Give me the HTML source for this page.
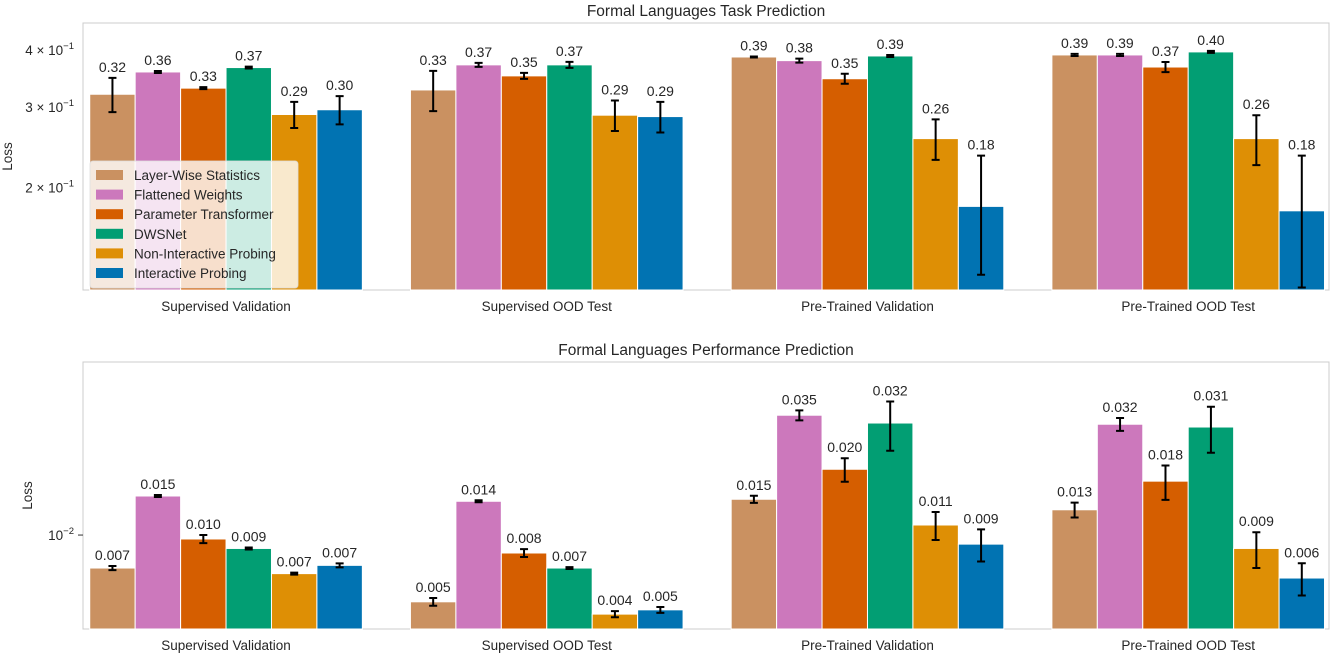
<!DOCTYPE html>
<html><head><meta charset="utf-8">
<style>
html,body{margin:0;padding:0;background:#fff;}
svg{display:block;font-family:"Liberation Sans","DejaVu Sans",sans-serif;}
</style></head>
<body>
<svg id="chart" width="1335" height="653" viewBox="0 0 1335 653" xmlns="http://www.w3.org/2000/svg"></svg>
<script>
const categories = ["Supervised Validation","Supervised OOD Test","Pre-Trained Validation","Pre-Trained OOD Test"];
const seriesNames = ["Layer-Wise Statistics","Flattened Weights","Parameter Transformer","DWSNet","Non-Interactive Probing","Interactive Probing"];
const colors = ["#ca9161","#cc78bc","#d55e00","#029e73","#de8f05","#0173b2"];
// Task prediction values [series][category]
const taskLW  = [0.320,0.327,0.386,0.390];
const taskFW  = [0.358,0.371,0.379,0.390];
const taskPT  = [0.330,0.351,0.346,0.367];
const taskDW  = [0.366,0.371,0.388,0.396];
const taskNIP = [0.289,0.288,0.256,0.256];
const taskIP  = [0.296,0.286,0.182,0.178];
const taskErrLW  = [0.0275,0.033,0.001,0.002];
const taskErrFW  = [0.0018,0.0037,0.0038,0.002];
const taskErrPT  = [0.0017,0.0053,0.0087,0.0093];
const taskErrDW  = [0.0018,0.0056,0.002,0.002];
const taskErrNIP = [0.019,0.022,0.026,0.032];
const taskErrIP  = [0.021,0.022,0.053,0.057];
// Performance prediction values
const perfLW  = [0.0071,0.0050,0.0145,0.0130];
const perfFW  = [0.0150,0.0142,0.0347,0.0316];
const perfPT  = [0.0096,0.0083,0.0198,0.0175];
const perfDW  = [0.0087,0.0071,0.0320,0.0307];
const perfNIP = [0.0067,0.0044,0.0111,0.0087];
const perfIP  = [0.0073,0.0046,0.0091,0.0064];
const perfErrLW  = [0.00015,0.0002,0.00053,0.001];
const perfErrFW  = [0.00016,0.00015,0.0018,0.0021];
const perfErrPT  = [0.0004,0.00034,0.0024,0.0031];
const perfErrDW  = [0.00009,0.00007,0.008,0.0072];
const perfErrNIP = [0.00007,0.00014,0.0016,0.0016];
const perfErrIP  = [0.00015,0.00014,0.0015,0.00106];
const taskTicks = [0.2,0.3,0.4];
const taskTickMant = ["2","3","4"];
const perfTicks = [0.01];

const NS="http://www.w3.org/2000/svg";
const svg=document.getElementById('chart');
function mk(tag,attrs,parent){const e=document.createElementNS(NS,tag);for(const k in attrs)e.setAttribute(k,attrs[k]);(parent||svg).appendChild(e);return e;}

function drawPanel(cfg){
  const {top,bottom,left,right,ymin,ymax,vals,errs,digits,title,prefix}=cfg;
  const g=mk('g',{});
  
  
  const L0=Math.log10(ymin),L1=Math.log10(ymax);
  const y=v=>bottom-(Math.log10(v)-L0)/(L1-L0)*(bottom-top);
  const xlo=-0.446, xhi=3.439;
  const xc=i=>left+(i-xlo)/(xhi-xlo)*(right-left);
  const groupW=(right-left)/(xhi-xlo);
  const barW=groupW*0.85/seriesNames.length;
  const fr=mk('rect',{x:left,y:top,width:right-left,height:bottom-top,fill:'none',stroke:'#cccccc','stroke-width':1},g);
  
  
  const t=mk('text',{x:(left+right)/2,y:top-7,'text-anchor':'middle','font-size':15.5,fill:'#262626'},g);
  t.textContent=title;
  
  
  const yl=mk('text',{x:cfg.ylabX,y:(top+bottom)/2,'text-anchor':'middle','font-size':13.5,fill:'#262626',transform:`rotate(-90 ${cfg.ylabX} ${(top+bottom)/2})`},g);
  yl.textContent='Loss';
  
  
  cfg.ticks(g,y);
  categories.forEach((c,i)=>{
    const ct=mk('text',{x:xc(i),y:bottom+21,'text-anchor':'middle','font-size':13.5,fill:'#262626'},g);
    ct.textContent=c;
    
    
    for(let s=0;s<seriesNames.length;s++){
      const v=vals[s][i],e=errs[s][i];
      const x0=xc(i)-groupW*0.425+s*barW;
      const r=mk('rect',{x:x0,y:y(v),width:barW,height:bottom-y(v),fill:colors[s],stroke:'#ffffff','stroke-width':1},g);
      
      
      const cx=x0+barW/2, yt=y(v+e), yb=y(Math.max(v-e,ymin*1.001));
      const eb=mk('path',{d:`M${cx},${yt}V${yb}M${cx-4},${yt}H${cx+4}M${cx-4},${yb}H${cx+4}`,stroke:'#000',"stroke-width":2,fill:'none'},g);
      
      
      const lb=mk('text',{x:cx,y:yt-6,'text-anchor':'middle','font-size':14,fill:'#262626'},g);
      lb.textContent=v.toFixed(digits);
      
      
    }
  });
}

drawPanel({prefix:'task',top:23,bottom:290,left:83,right:1329,ymin:0.1195,ymax:0.458,digits:2,
  title:'Formal Languages Task Prediction',ylabX:12,
  vals:[taskLW,taskFW,taskPT,taskDW,taskNIP,taskIP],
  errs:[taskErrLW,taskErrFW,taskErrPT,taskErrDW,taskErrNIP,taskErrIP],
  ticks:(g,y)=>{taskTicks.forEach((tv,k)=>{
    const tx=mk('text',{x:74,y:y(tv)+5,'text-anchor':'end','font-size':13.5,fill:'#262626'},g);
    tx.innerHTML=taskTickMant[k]+' × 10<tspan dy="-6" font-size="9.5">−1</tspan>';
    
    
  });}
});
drawPanel({prefix:'perf',top:362,bottom:629,left:83,right:1329,ymin:0.00377,ymax:0.0603,digits:3,
  title:'Formal Languages Performance Prediction',ylabX:32,
  vals:[perfLW,perfFW,perfPT,perfDW,perfNIP,perfIP],
  errs:[perfErrLW,perfErrFW,perfErrPT,perfErrDW,perfErrNIP,perfErrIP],
  ticks:(g,y)=>{perfTicks.forEach(tv=>{
    const tx=mk('text',{x:74,y:y(tv)+5,'text-anchor':'end','font-size':13.5,fill:'#262626'},g);
    tx.innerHTML='10<tspan dy="-6" font-size="9.5">−2</tspan>';
    
    
    mk('line',{x1:78,x2:83,y1:y(tv),y2:y(tv),stroke:'#333','stroke-width':1},g);
  });}
});

const lg=mk('g',{});


mk('rect',{x:90,y:161,width:208,height:127,rx:3,fill:'#ffffff','fill-opacity':0.8,stroke:'#dddddd','stroke-opacity':0.8},lg);
seriesNames.forEach((n,i)=>{
  const yy=170+i*19.6;
  const p=mk('rect',{x:96,y:yy,width:27,height:10,fill:colors[i]},lg);
  
  
  const tx=mk('text',{x:134,y:yy+10,'font-size':13.5,fill:'#262626'},lg);
  tx.textContent=n;
  
  
});
</script>
</body></html>
